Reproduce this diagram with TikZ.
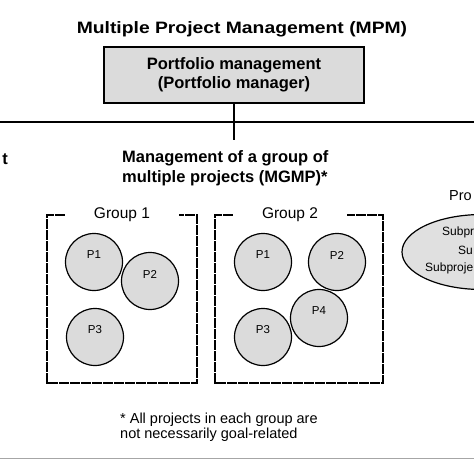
\documentclass[tikz,border=0pt]{standalone}
\usepackage{fontspec}
\setmainfont{Liberation Sans}
\newfontfamily\titlefont{Liberation Sans}[FakeStretch=1.17]
\usepackage{tikz}
\usetikzlibrary{positioning,shapes.geometric}

\begin{document}
\begin{tikzpicture}[
  x=1pt, y=-1pt,
  font=\fontsize{14.5}{15}\selectfont,
  hd/.style={font=\fontsize{16.5}{19.5}\selectfont\bfseries, inner sep=0pt},
  r/.style={rectangle, draw, line width=1.4pt, fill=gray!28, minimum width=260pt,
            minimum height=56pt, align=center},
  grp/.style={line width=1.2pt, dash pattern=on 10pt off 1pt},
  glbl/.style={minimum width=114pt, inner sep=0pt, font=\fontsize{15.5}{16}\selectfont},
  proj/.style={circle, draw, line width=1.2pt, fill=gray!28, minimum size=57pt, inner sep=0pt},
  plab/.style={font=\fontsize{11.5}{12}\selectfont},
  sub/.style={anchor=west, inner sep=0pt, font=\fontsize{12}{12}\selectfont},
  conn/.style={line width=2pt}
]
  \useasboundingbox (0,0) rectangle (474,474);
  \clip (0,0) rectangle (474,474);

  \node[inner sep=0pt, font=\fontsize{16.5}{19}\titlefont\bfseries] (mpm) at (242,29) {Multiple Project Management (MPM)};
  \node[r, font=\fontsize{16.5}{19}\selectfont\bfseries] (pfm) at (234,75) {Portfolio management\\(Portfolio manager)};

  \coordinate (hl) at (0,122);
  \coordinate (hr) at (474,122);
  \coordinate (drop) at (234,140);
  \draw[conn] (hl) -- (hr);
  \draw[line width=2.6pt] (pfm.south) -- (drop);

  \node[hd, anchor=east] (spm) at (8,159) {t};
  \node[hd, anchor=west, align=left] (mgmp) at (122,168) {Management of a group of\\multiple projects (MGMP)*};
  \node[anchor=west, inner sep=0pt] (pro) at (449,196) {Pro};

  \node[glbl] (g1) at (122,215) {Group 1};
  \node[glbl] (g2) at (290,215) {Group 2};
  \draw[grp] (g1.west) -| (47,383) -| (197,215) -- (g1.east);
  \draw[grp] (g2.west) -| (215,383) -| (383,215) -- (g2.east);

  \node[proj, label={[plab, yshift=7pt]center:P1}] (g1p1) at (94,262) {};
  \node[proj, label={[plab, yshift=7pt]center:P2}] (g1p2) at (150,281) {};
  \node[proj, label={[plab, yshift=7pt]center:P3}] (g1p3) at (95,337) {};

  \node[proj, label={[plab, yshift=7pt]center:P1}] (g2p1) at (263,262) {};
  \node[proj, label={[plab, yshift=7pt]center:P2}] (g2p2) at (337,262) {};
  \node[proj, label={[plab, yshift=7pt]center:P4}] (g2p4) at (319,318) {};
  \node[proj, label={[plab, yshift=7pt]center:P3}] (g2p3) at (263,337) {};

  \node[ellipse, draw, line width=1.2pt, fill=gray!24, minimum width=160pt, minimum height=75pt] (subs) at (482,252) {};
  \node[sub] (sp1) at (442,232) {Subpr};
  \node[sub] (sp2) at (458,250) {Su};
  \node[sub] (sp3) at (425,268) {Subproje};

  \node[anchor=west, align=left, inner sep=0pt] (note) at (120,427) {* All projects in each group are\\not necessarily goal-related};

  \coordinate (bl) at (0,458);
  \coordinate (br) at (474,458);
  \draw[gray!70, line width=1pt] (bl) -- (br);
\end{tikzpicture}
\end{document}
